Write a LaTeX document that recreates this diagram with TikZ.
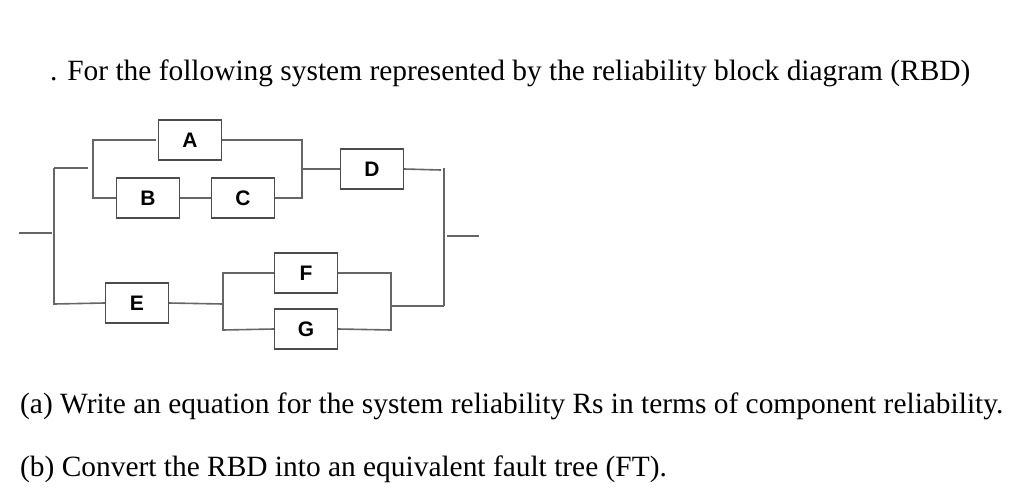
\documentclass[tikz,border=0pt]{standalone}
\usepackage{fontspec}
\setmainfont{Liberation Serif}
\newfontfamily\boxfont{Liberation Sans}
\begin{document}
\begin{tikzpicture}[x=1pt,y=-1pt,
  blk/.style={draw=black!70,line width=1.3pt,minimum width=63pt,minimum height=40pt,inner sep=0pt,font=\boxfont\bfseries\fontsize{21}{21}\selectfont},
  wire/.style={draw=black!60,line width=1.6pt},
  txt/.style={anchor=base west,inner sep=0pt,font=\fontsize{29.4}{29.4}\selectfont}]
\useasboundingbox (0,0) rectangle (1024,496);
\node[txt] (t1) at (50,80) {. For the following system represented by the reliability block diagram (RBD)};
\node[txt] (t2) at (20,413) {(a) Write an equation for the system reliability Rs in terms of component reliability.};
\node[txt] (t3) at (20,476) {(b) Convert the RBD into an equivalent fault tree (FT).};
\node[blk] (A) at (190,140) {A};
\node[blk] (B) at (148,198) {B};
\node[blk] (C) at (243,198) {C};
\node[blk] (D) at (372,169) {D};
\node[blk] (E) at (137,303) {E};
\node[blk] (F) at (306,273) {F};
\node[blk] (G) at (306,329) {G};
\coordinate (in) at (19,233);
\coordinate (out) at (479,236);
% outer split
\draw[wire] (in) -- (52,233);
\draw[wire] (54,168) -- (54,305);
\draw[wire] (54,168) -- (88,168);
\draw[wire] (54,304) -- (E.west);
% top branch
\draw[wire] (156,140) -| (93,198) -- (B.west);
\draw[wire] (B.east) -- (C.west);
\draw[wire] (A.east) -| (302,198) -- (C.east);
\draw[wire] (302,169) -- (D.west);
\draw[wire] (D.east) -- (441,170);
\draw[wire] (444,168) -- (444,306);
\draw[wire] (447,236) -- (out);
% bottom branch
\draw[wire] (E.east) -- (223,304);
\draw[wire] (F.west) -| (223,330) -- (G.west);
\draw[wire] (F.east) -| (391,330) -- (G.east);
\draw[wire] (391,306) -- (444,306);
\end{tikzpicture}
\end{document}
